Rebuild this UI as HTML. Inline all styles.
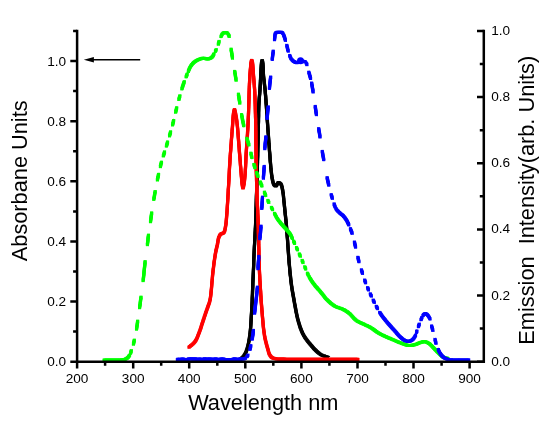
<!DOCTYPE html>
<html><head><meta charset="utf-8"><title>Spectra</title>
<style>html,body{margin:0;padding:0;background:#fff}svg{display:block}</style>
</head><body>
<svg width="550" height="424" viewBox="0 0 550 424">
<rect width="550" height="424" fill="#fff"/>
<defs><path id="c1" d="M236.0 360.0L236.2 360.0L236.4 360.0L236.6 360.0L236.8 360.0L237.0 360.0L237.1 360.0L237.3 360.0L237.5 360.0L237.7 360.0L237.9 360.0L238.1 360.0L238.3 359.9L238.5 359.9L238.6 359.9L238.8 359.8L239.0 359.8L239.2 359.7L239.3 359.7L239.5 359.6L239.7 359.6L239.8 359.5L240.0 359.4L240.1 359.3L240.3 359.3L240.4 359.2L240.6 359.1L240.7 359.0L240.9 358.9L241.0 358.8L241.2 358.6L241.3 358.5L241.5 358.4L241.7 358.2L241.9 358.0L242.1 357.8L242.3 357.6L242.5 357.4L242.7 357.2L243.0 356.9L243.2 356.7L243.4 356.4L243.6 356.2L243.8 355.9L244.0 355.6L244.2 355.4L244.3 355.1L244.5 354.8L244.7 354.5L244.9 354.2L245.1 353.8L245.3 353.5L245.5 353.1L245.6 352.8L245.8 352.4L246.0 352.0L246.1 351.6L246.3 351.2L246.4 350.8L246.6 350.4L246.7 350.0L246.9 349.6L247.0 349.1L247.2 348.7L247.3 348.2L247.5 347.5L247.7 346.9L247.9 346.2L248.0 345.5L248.2 344.7L248.4 344.0L248.5 343.2L248.7 342.4L248.8 341.6L249.0 340.8L249.1 340.0L249.3 339.1L249.4 338.2L249.5 337.3L249.7 336.4L249.8 335.5L250.0 334.2L250.1 332.8L250.3 331.3L250.4 329.8L250.6 328.3L250.7 326.7L250.8 325.1L250.9 323.4L251.0 321.8L251.1 320.1L251.2 318.4L251.3 316.7L251.4 315.0L251.5 313.3L251.6 311.7L251.7 310.0L251.8 308.2L251.9 306.4L252.0 304.6L252.1 302.7L252.2 300.9L252.2 299.0L252.3 297.2L252.4 295.3L252.5 293.4L252.5 291.5L252.6 289.6L252.7 287.7L252.8 285.8L252.8 283.9L252.9 281.9L253.0 280.0L253.1 277.9L253.2 275.7L253.3 273.5L253.4 271.2L253.5 269.0L253.6 266.7L253.7 264.4L253.7 262.1L253.8 259.8L253.9 257.6L254.0 255.4L254.1 253.2L254.2 251.1L254.3 249.0L254.4 246.9L254.5 245.0L254.6 243.5L254.6 242.1L254.7 240.8L254.8 239.5L254.9 238.2L254.9 236.9L255.0 235.6L255.1 234.4L255.1 233.1L255.2 231.9L255.3 230.6L255.3 229.4L255.4 228.1L255.5 226.8L255.5 225.4L255.6 224.0L255.7 222.3L255.7 220.6L255.8 218.8L255.9 217.0L255.9 215.1L256.0 213.3L256.0 211.4L256.1 209.5L256.1 207.6L256.2 205.7L256.2 203.9L256.3 202.0L256.3 200.2L256.4 198.4L256.4 196.7L256.5 195.0L256.5 193.6L256.6 192.2L256.6 190.9L256.7 189.5L256.7 188.2L256.8 186.9L256.8 185.7L256.9 184.4L256.9 183.1L256.9 181.8L257.0 180.6L257.0 179.3L257.1 178.0L257.1 176.7L257.2 175.3L257.2 174.0L257.2 172.5L257.3 171.1L257.3 169.6L257.4 168.1L257.4 166.6L257.4 165.1L257.5 163.6L257.5 162.1L257.5 160.6L257.6 159.1L257.6 157.6L257.7 156.1L257.7 154.6L257.7 153.0L257.8 151.5L257.8 150.0L257.8 148.4L257.9 146.9L257.9 145.3L258.0 143.7L258.0 142.2L258.0 140.6L258.1 139.0L258.1 137.4L258.1 135.8L258.2 134.2L258.2 132.7L258.3 131.1L258.3 129.6L258.3 128.0L258.4 126.5L258.4 125.0L258.4 123.6L258.5 122.3L258.5 120.9L258.5 119.6L258.5 118.2L258.6 116.9L258.6 115.5L258.6 114.2L258.6 112.9L258.6 111.6L258.7 110.3L258.7 109.0L258.7 107.7L258.8 106.5L258.8 105.2L258.9 104.0L259.0 102.9L259.0 101.9L259.1 100.8L259.2 99.8L259.2 98.8L259.3 97.8L259.4 96.7L259.5 95.7L259.6 94.7L259.7 93.8L259.7 92.8L259.8 91.8L259.9 90.8L260.0 89.9L260.0 88.9L260.1 88.0L260.1 87.2L260.2 86.3L260.2 85.5L260.3 84.7L260.3 83.9L260.4 83.1L260.4 82.3L260.4 81.5L260.5 80.7L260.5 79.9L260.5 79.2L260.6 78.4L260.6 77.7L260.6 76.9L260.7 76.2L260.7 75.5L260.7 74.9L260.8 74.3L260.8 73.8L260.8 73.2L260.9 72.6L260.9 72.1L260.9 71.5L260.9 71.0L261.0 70.5L261.0 69.9L261.0 69.4L261.1 68.9L261.1 68.4L261.1 67.9L261.2 67.5L261.2 67.0L261.2 66.7L261.2 66.3L261.3 66.0L261.3 65.7L261.3 65.4L261.3 65.0L261.3 64.7L261.4 64.4L261.4 64.1L261.4 63.8L261.4 63.6L261.5 63.3L261.5 63.0L261.5 62.8L261.6 62.5L261.6 62.3L261.6 62.2L261.7 62.0L261.7 61.9L261.7 61.7L261.8 61.5L261.8 61.4L261.8 61.3L261.9 61.1L261.9 61.0L261.9 60.9L262.0 60.8L262.0 60.7L262.0 60.6L262.1 60.5L262.1 60.5L262.1 60.5L262.2 60.5L262.2 60.5L262.3 60.6L262.3 60.7L262.3 60.8L262.4 60.9L262.4 61.0L262.4 61.1L262.5 61.3L262.5 61.4L262.5 61.5L262.6 61.7L262.6 61.9L262.6 62.0L262.7 62.2L262.7 62.3L262.7 62.5L262.8 62.8L262.8 63.0L262.8 63.3L262.9 63.6L262.9 63.8L262.9 64.1L262.9 64.4L263.0 64.7L263.0 65.0L263.0 65.4L263.0 65.7L263.0 66.0L263.1 66.3L263.1 66.7L263.1 67.0L263.1 67.5L263.2 67.9L263.2 68.4L263.2 68.9L263.2 69.4L263.2 69.9L263.2 70.5L263.3 71.0L263.3 71.5L263.3 72.1L263.3 72.6L263.4 73.2L263.4 73.8L263.4 74.3L263.5 74.9L263.5 75.5L263.6 76.2L263.6 76.9L263.7 77.7L263.8 78.4L263.9 79.2L264.0 79.9L264.1 80.7L264.2 81.5L264.2 82.3L264.3 83.1L264.4 83.9L264.5 84.7L264.6 85.5L264.7 86.3L264.8 87.2L264.9 88.0L265.0 88.9L265.1 89.9L265.2 90.9L265.2 91.8L265.3 92.8L265.4 93.8L265.5 94.8L265.6 95.8L265.7 96.8L265.7 97.8L265.8 98.8L265.9 99.9L266.0 100.9L266.0 101.9L266.1 103.0L266.2 104.0L266.3 105.1L266.4 106.3L266.4 107.4L266.5 108.6L266.6 109.7L266.7 110.9L266.8 112.1L266.8 113.2L266.9 114.4L267.0 115.6L267.1 116.8L267.2 118.0L267.2 119.3L267.3 120.5L267.4 121.7L267.5 123.0L267.6 124.5L267.7 126.0L267.8 127.5L267.9 129.0L268.0 130.6L268.1 132.2L268.3 133.8L268.4 135.4L268.5 137.0L268.6 138.6L268.7 140.2L268.8 141.7L268.9 143.3L269.1 144.9L269.2 146.5L269.3 148.0L269.4 149.5L269.5 151.0L269.6 152.5L269.8 154.1L269.9 155.6L270.0 157.2L270.1 158.7L270.2 160.2L270.3 161.7L270.5 163.2L270.6 164.6L270.7 166.0L270.8 167.4L271.0 168.6L271.1 169.9L271.2 171.0L271.3 171.7L271.4 172.3L271.4 173.0L271.5 173.6L271.6 174.2L271.6 174.8L271.7 175.4L271.8 175.9L271.9 176.5L271.9 177.0L272.0 177.5L272.1 178.0L272.2 178.5L272.3 179.0L272.4 179.5L272.5 180.0L272.6 180.4L272.7 180.7L272.8 181.1L272.8 181.5L272.9 181.8L273.0 182.2L273.1 182.5L273.2 182.9L273.3 183.2L273.4 183.5L273.5 183.8L273.7 184.1L273.8 184.4L273.9 184.6L274.1 184.8L274.2 185.0L274.3 185.1L274.4 185.2L274.5 185.3L274.6 185.4L274.7 185.5L274.8 185.6L275.0 185.7L275.1 185.7L275.2 185.8L275.3 185.8L275.4 185.9L275.5 185.9L275.7 185.9L275.8 185.9L275.9 185.9L276.0 185.9L276.1 185.8L276.3 185.7L276.4 185.5L276.6 185.3L276.7 185.1L276.8 184.9L277.0 184.6L277.1 184.3L277.3 184.0L277.4 183.8L277.5 183.5L277.7 183.3L277.8 183.1L278.0 182.9L278.1 182.8L278.3 182.7L278.4 182.7L278.6 182.7L278.8 182.7L278.9 182.7L279.1 182.8L279.2 182.8L279.4 182.9L279.6 183.0L279.7 183.1L279.9 183.2L280.1 183.3L280.2 183.4L280.4 183.6L280.5 183.7L280.7 183.9L280.8 184.0L281.0 184.2L281.2 184.5L281.3 184.8L281.5 185.2L281.6 185.5L281.7 185.9L281.8 186.3L281.9 186.7L282.1 187.2L282.1 187.6L282.2 188.1L282.3 188.5L282.4 189.0L282.5 189.5L282.6 189.9L282.7 190.4L282.8 191.0L282.9 191.7L283.0 192.3L283.1 193.0L283.2 193.7L283.3 194.4L283.4 195.1L283.4 195.8L283.5 196.6L283.6 197.3L283.6 198.1L283.7 198.8L283.8 199.6L283.8 200.3L283.9 201.1L284.0 201.8L284.1 202.6L284.2 203.4L284.3 204.2L284.3 205.0L284.4 205.8L284.5 206.6L284.6 207.4L284.7 208.2L284.7 209.0L284.8 209.8L284.9 210.6L285.0 211.4L285.1 212.2L285.1 213.0L285.2 213.8L285.3 214.5L285.4 215.1L285.4 215.7L285.5 216.3L285.6 216.9L285.6 217.4L285.7 218.0L285.7 218.5L285.8 219.1L285.9 219.6L285.9 220.2L286.0 220.8L286.0 221.4L286.1 222.0L286.2 222.6L286.2 223.3L286.3 224.0L286.4 225.2L286.5 226.4L286.6 227.7L286.7 229.1L286.8 230.5L286.9 231.9L287.0 233.4L287.1 234.9L287.2 236.4L287.4 238.0L287.5 239.5L287.6 241.1L287.7 242.6L287.8 244.1L287.9 245.6L288.0 247.0L288.1 248.4L288.2 249.8L288.3 251.2L288.4 252.6L288.5 254.0L288.6 255.4L288.7 256.8L288.8 258.2L288.9 259.6L289.0 261.0L289.1 262.4L289.2 263.7L289.4 265.1L289.5 266.4L289.6 267.7L289.7 269.0L289.8 270.1L289.9 271.2L290.0 272.3L290.1 273.4L290.2 274.5L290.4 275.6L290.5 276.7L290.6 277.7L290.7 278.8L290.8 279.8L290.9 280.9L291.1 281.9L291.2 283.0L291.3 284.0L291.5 285.0L291.6 286.0L291.7 286.9L291.9 287.8L292.0 288.7L292.1 289.5L292.3 290.4L292.4 291.2L292.6 292.1L292.7 292.9L292.9 293.8L293.0 294.6L293.2 295.5L293.3 296.4L293.5 297.2L293.7 298.1L293.8 299.1L294.0 300.0L294.2 301.2L294.4 302.4L294.6 303.6L294.9 304.8L295.1 306.1L295.3 307.4L295.6 308.7L295.8 310.0L296.0 311.3L296.3 312.6L296.6 313.9L296.8 315.2L297.1 316.4L297.4 317.7L297.7 318.9L298.0 320.0L298.3 321.0L298.5 321.9L298.8 322.8L299.1 323.8L299.4 324.7L299.6 325.6L299.9 326.5L300.2 327.4L300.5 328.2L300.9 329.1L301.2 329.9L301.5 330.8L301.9 331.6L302.2 332.4L302.6 333.2L303.0 334.0L303.4 334.7L303.7 335.4L304.1 336.0L304.5 336.7L304.9 337.3L305.4 338.0L305.8 338.6L306.2 339.2L306.7 339.8L307.1 340.4L307.6 341.0L308.0 341.6L308.5 342.2L309.0 342.8L309.5 343.4L310.0 344.0L310.6 344.7L311.1 345.3L311.7 346.0L312.3 346.7L312.9 347.4L313.5 348.1L314.1 348.8L314.8 349.4L315.4 350.1L316.1 350.7L316.7 351.3L317.4 351.9L318.0 352.5L318.7 353.0L319.3 353.5L320.0 354.0L320.5 354.3L321.1 354.7L321.6 355.0L322.2 355.2L322.8 355.5L323.3 355.7L323.9 355.9L324.5 356.1L325.0 356.3L325.6 356.5L326.2 356.7L326.7 356.9L327.3 357.1L327.9 357.3L328.4 357.5L329.0 357.7"/>
<path id="c2" d="M189.0 347.2L189.4 346.8L189.8 346.5L190.2 346.2L190.6 345.8L191.0 345.5L191.4 345.2L191.8 344.9L192.2 344.5L192.6 344.2L193.0 343.8L193.4 343.5L193.7 343.1L194.1 342.7L194.4 342.3L194.8 341.9L195.1 341.5L195.4 341.0L195.8 340.5L196.1 339.9L196.4 339.4L196.7 338.8L196.9 338.2L197.2 337.6L197.5 337.0L197.7 336.3L198.0 335.7L198.2 335.1L198.4 334.4L198.7 333.8L198.9 333.2L199.2 332.5L199.4 331.9L199.6 331.3L199.9 330.6L200.1 330.0L200.3 329.3L200.6 328.7L200.8 328.0L201.0 327.4L201.2 326.7L201.4 326.0L201.6 325.4L201.8 324.7L202.0 324.0L202.3 323.4L202.5 322.7L202.7 322.1L202.9 321.4L203.1 320.7L203.3 320.1L203.6 319.4L203.8 318.8L204.0 318.1L204.2 317.5L204.4 316.8L204.6 316.1L204.9 315.5L205.1 314.8L205.3 314.2L205.5 313.5L205.7 312.9L206.0 312.2L206.2 311.6L206.4 310.9L206.6 310.2L206.9 309.6L207.1 309.0L207.3 308.3L207.6 307.7L207.8 307.0L208.0 306.4L208.3 305.7L208.5 305.1L208.7 304.4L209.0 303.8L209.2 303.1L209.4 302.5L209.6 301.8L209.7 301.2L209.9 300.5L210.0 299.9L210.2 299.2L210.3 298.5L210.4 297.9L210.5 297.2L210.6 296.6L210.7 295.9L210.8 295.2L210.8 294.6L210.9 293.9L211.0 293.2L211.0 292.6L211.1 291.9L211.2 291.3L211.2 290.6L211.3 290.0L211.4 289.4L211.4 288.8L211.5 288.3L211.5 287.7L211.6 287.1L211.6 286.6L211.7 286.0L211.7 285.5L211.7 284.9L211.8 284.3L211.8 283.8L211.9 283.2L211.9 282.6L212.0 282.0L212.0 281.3L212.1 280.7L212.2 279.8L212.3 279.0L212.4 278.1L212.4 277.1L212.5 276.2L212.6 275.2L212.7 274.2L212.8 273.2L212.9 272.3L213.0 271.3L213.1 270.3L213.3 269.3L213.4 268.3L213.5 267.4L213.6 266.4L213.7 265.5L213.8 264.7L213.9 263.8L214.0 263.0L214.1 262.2L214.2 261.3L214.4 260.5L214.5 259.7L214.6 258.9L214.7 258.1L214.8 257.3L215.0 256.5L215.1 255.7L215.2 254.9L215.3 254.2L215.5 253.4L215.6 252.7L215.7 252.1L215.8 251.5L215.9 250.9L216.1 250.4L216.2 249.8L216.3 249.2L216.4 248.7L216.6 248.2L216.7 247.6L216.8 247.1L216.9 246.6L217.1 246.0L217.2 245.5L217.3 245.0L217.4 244.5L217.5 244.0L217.6 243.6L217.7 243.2L217.7 242.7L217.8 242.3L217.9 241.9L217.9 241.5L218.0 241.1L218.0 240.7L218.1 240.3L218.2 239.9L218.2 239.5L218.3 239.1L218.4 238.7L218.5 238.4L218.6 238.0L218.7 237.7L218.8 237.4L218.9 237.2L219.0 237.0L219.1 236.7L219.2 236.5L219.3 236.3L219.4 236.0L219.5 235.8L219.6 235.6L219.7 235.4L219.9 235.2L220.0 235.0L220.1 234.8L220.3 234.6L220.4 234.5L220.6 234.3L220.8 234.2L220.9 234.0L221.1 233.9L221.3 233.8L221.6 233.7L221.8 233.7L222.0 233.6L222.2 233.5L222.4 233.4L222.7 233.3L222.9 233.3L223.1 233.2L223.3 233.0L223.5 232.9L223.6 232.8L223.8 232.6L224.0 232.4L224.1 232.1L224.3 231.8L224.4 231.5L224.6 231.2L224.7 230.8L224.8 230.5L224.9 230.1L224.9 229.8L225.0 229.4L225.1 229.0L225.2 228.6L225.3 228.2L225.3 227.7L225.4 227.3L225.5 226.9L225.6 226.3L225.7 225.7L225.8 225.0L225.9 224.4L226.0 223.7L226.1 223.0L226.1 222.2L226.2 221.5L226.3 220.8L226.3 220.0L226.4 219.2L226.5 218.5L226.5 217.7L226.6 217.0L226.6 216.2L226.7 215.5L226.8 214.7L226.8 213.9L226.9 213.1L227.0 212.4L227.0 211.6L227.1 210.8L227.1 210.0L227.2 209.1L227.2 208.3L227.3 207.5L227.3 206.7L227.4 205.9L227.4 205.1L227.5 204.3L227.5 203.5L227.6 202.7L227.6 201.9L227.7 201.1L227.7 200.4L227.8 199.6L227.8 198.9L227.9 198.2L227.9 197.4L227.9 196.7L228.0 195.9L228.0 195.2L228.1 194.4L228.1 193.6L228.2 192.7L228.2 191.8L228.2 190.9L228.3 190.0L228.4 188.5L228.5 186.9L228.6 185.2L228.7 183.4L228.8 181.6L228.9 179.8L229.0 177.9L229.1 175.9L229.2 173.9L229.3 171.9L229.4 169.9L229.5 167.9L229.6 165.9L229.8 163.9L229.9 161.9L230.0 160.0L230.1 157.9L230.3 155.7L230.4 153.5L230.6 151.3L230.8 149.0L230.9 146.7L231.1 144.4L231.3 142.1L231.4 139.9L231.6 137.7L231.8 135.5L231.9 133.4L232.1 131.4L232.2 129.5L232.4 127.7L232.5 126.0L232.6 125.0L232.6 124.0L232.7 123.1L232.8 122.1L232.8 121.2L232.9 120.3L233.0 119.4L233.0 118.6L233.1 117.8L233.1 117.0L233.2 116.2L233.3 115.5L233.3 114.8L233.4 114.2L233.5 113.6L233.6 113.0L233.7 112.7L233.7 112.4L233.8 112.1L233.8 111.8L233.9 111.5L233.9 111.2L234.0 110.9L234.0 110.7L234.1 110.4L234.2 110.2L234.2 110.0L234.3 109.8L234.3 109.7L234.4 109.6L234.4 109.5L234.5 109.5L234.6 109.5L234.6 109.6L234.7 109.7L234.7 109.8L234.8 110.0L234.8 110.2L234.9 110.5L234.9 110.7L235.0 111.0L235.1 111.3L235.1 111.6L235.2 111.9L235.2 112.2L235.3 112.4L235.3 112.7L235.4 113.0L235.5 113.4L235.6 113.8L235.7 114.2L235.8 114.7L235.8 115.1L235.9 115.6L236.0 116.1L236.1 116.6L236.2 117.1L236.3 117.6L236.4 118.1L236.5 118.7L236.6 119.2L236.6 119.8L236.7 120.4L236.8 121.0L236.9 122.0L237.0 122.9L237.1 124.0L237.3 125.0L237.4 126.2L237.5 127.3L237.6 128.5L237.7 129.6L237.8 130.9L237.9 132.1L238.0 133.4L238.1 134.7L238.2 136.0L238.3 137.3L238.4 138.6L238.5 140.0L238.7 141.9L238.8 143.9L239.0 146.0L239.2 148.3L239.3 150.5L239.5 152.9L239.7 155.2L239.9 157.6L240.1 159.9L240.3 162.2L240.4 164.5L240.6 166.6L240.8 168.7L240.9 170.6L241.1 172.4L241.2 174.0L241.3 174.8L241.3 175.7L241.4 176.4L241.5 177.2L241.5 178.0L241.6 178.7L241.6 179.4L241.7 180.0L241.7 180.7L241.8 181.3L241.9 181.9L241.9 182.5L242.0 183.1L242.1 183.6L242.1 184.1L242.2 184.6L242.2 184.9L242.3 185.2L242.3 185.5L242.4 185.7L242.4 186.0L242.5 186.3L242.5 186.6L242.6 186.8L242.6 187.1L242.7 187.3L242.7 187.5L242.8 187.7L242.8 187.8L242.9 187.9L242.9 188.0L243.0 188.0L243.1 188.0L243.1 187.9L243.2 187.8L243.2 187.7L243.3 187.5L243.3 187.3L243.4 187.1L243.5 186.8L243.5 186.6L243.6 186.3L243.6 186.0L243.7 185.7L243.7 185.5L243.8 185.2L243.8 184.9L243.9 184.6L244.0 184.1L244.1 183.6L244.2 183.0L244.2 182.5L244.3 181.8L244.4 181.2L244.5 180.6L244.6 179.9L244.6 179.2L244.7 178.5L244.8 177.8L244.8 177.0L244.9 176.3L245.0 175.5L245.0 174.8L245.1 174.0L245.2 172.9L245.3 171.7L245.3 170.4L245.4 169.1L245.5 167.8L245.6 166.4L245.6 165.0L245.7 163.6L245.8 162.2L245.8 160.8L245.9 159.4L245.9 158.1L246.0 156.7L246.1 155.4L246.1 154.2L246.2 153.0L246.3 152.1L246.3 151.2L246.4 150.4L246.4 149.6L246.5 148.8L246.5 148.0L246.6 147.2L246.6 146.5L246.7 145.7L246.8 144.9L246.8 144.1L246.9 143.4L246.9 142.5L247.0 141.7L247.0 140.9L247.1 140.0L247.2 138.9L247.2 137.8L247.3 136.6L247.4 135.5L247.5 134.3L247.5 133.1L247.6 131.9L247.7 130.7L247.8 129.4L247.8 128.2L247.9 127.0L248.0 125.8L248.0 124.5L248.1 123.3L248.1 122.2L248.2 121.0L248.2 119.9L248.3 118.8L248.3 117.7L248.4 116.7L248.4 115.6L248.5 114.5L248.5 113.5L248.5 112.4L248.6 111.4L248.6 110.3L248.6 109.2L248.7 108.2L248.7 107.1L248.7 106.1L248.8 105.0L248.8 104.0L248.8 103.0L248.9 102.0L248.9 100.9L248.9 99.9L249.0 98.9L249.0 97.9L249.0 96.9L249.0 95.8L249.1 94.8L249.1 93.8L249.1 92.8L249.2 91.8L249.2 90.9L249.2 89.9L249.3 88.9L249.3 88.0L249.3 87.2L249.4 86.3L249.4 85.5L249.4 84.7L249.5 83.9L249.5 83.1L249.5 82.3L249.6 81.5L249.6 80.7L249.6 79.9L249.7 79.2L249.7 78.4L249.8 77.7L249.8 76.9L249.9 76.2L249.9 75.5L249.9 74.9L250.0 74.3L250.0 73.8L250.1 73.2L250.1 72.6L250.2 72.1L250.2 71.5L250.2 71.0L250.3 70.5L250.3 69.9L250.4 69.4L250.4 68.9L250.5 68.4L250.5 67.9L250.6 67.5L250.6 67.0L250.6 66.7L250.7 66.3L250.7 66.0L250.7 65.6L250.7 65.3L250.8 65.0L250.8 64.7L250.8 64.4L250.8 64.1L250.9 63.8L250.9 63.5L250.9 63.2L251.0 62.9L251.0 62.7L251.1 62.4L251.1 62.2L251.1 62.1L251.2 61.9L251.2 61.8L251.2 61.6L251.3 61.4L251.3 61.3L251.4 61.2L251.4 61.0L251.5 60.9L251.5 60.8L251.5 60.7L251.6 60.6L251.6 60.5L251.7 60.4L251.7 60.4L251.8 60.4L251.8 60.4L251.8 60.4L251.9 60.5L251.9 60.6L252.0 60.7L252.0 60.8L252.0 60.9L252.1 61.0L252.1 61.2L252.2 61.3L252.2 61.4L252.3 61.6L252.3 61.8L252.3 61.9L252.4 62.1L252.4 62.2L252.4 62.4L252.5 62.7L252.5 62.9L252.6 63.2L252.6 63.5L252.6 63.8L252.7 64.1L252.7 64.4L252.7 64.7L252.7 65.0L252.8 65.3L252.8 65.6L252.8 66.0L252.8 66.3L252.9 66.7L252.9 67.0L252.9 67.5L253.0 67.9L253.0 68.4L253.1 68.9L253.1 69.4L253.1 69.9L253.2 70.5L253.2 71.0L253.2 71.5L253.3 72.1L253.3 72.6L253.3 73.2L253.4 73.8L253.4 74.3L253.5 74.9L253.5 75.5L253.6 76.2L253.6 76.9L253.7 77.7L253.7 78.4L253.8 79.2L253.9 79.9L253.9 80.7L254.0 81.5L254.1 82.3L254.1 83.1L254.2 83.9L254.3 84.7L254.3 85.5L254.4 86.3L254.4 87.2L254.5 88.0L254.6 88.9L254.6 89.9L254.7 90.9L254.7 91.8L254.8 92.8L254.8 93.8L254.9 94.8L254.9 95.8L254.9 96.9L255.0 97.9L255.0 98.9L255.1 99.9L255.1 100.9L255.1 102.0L255.2 103.0L255.2 104.0L255.2 105.0L255.3 106.0L255.3 107.0L255.3 108.0L255.3 109.0L255.4 110.0L255.4 110.9L255.4 111.9L255.4 112.9L255.5 114.0L255.5 115.0L255.5 116.1L255.5 117.3L255.6 118.5L255.6 119.7L255.6 121.0L255.6 123.4L255.7 126.0L255.7 128.9L255.8 131.9L255.8 135.0L255.8 138.2L255.9 141.6L255.9 144.9L256.0 148.3L256.0 151.7L256.1 155.0L256.1 158.3L256.1 161.5L256.2 164.5L256.2 167.3L256.3 170.0L256.3 171.8L256.4 173.5L256.4 175.2L256.5 176.8L256.5 178.4L256.5 179.9L256.6 181.4L256.6 182.9L256.7 184.4L256.7 185.9L256.7 187.3L256.8 188.8L256.8 190.3L256.9 191.8L256.9 193.4L257.0 195.0L257.1 196.7L257.1 198.5L257.2 200.2L257.3 201.9L257.3 203.7L257.4 205.4L257.5 207.2L257.6 208.9L257.7 210.7L257.7 212.5L257.8 214.4L257.9 216.2L258.0 218.1L258.1 220.0L258.1 222.0L258.2 224.0L258.3 226.6L258.4 229.4L258.4 232.2L258.5 235.2L258.6 238.2L258.7 241.3L258.7 244.4L258.8 247.5L258.9 250.6L258.9 253.7L259.0 256.7L259.1 259.6L259.1 262.4L259.2 265.1L259.3 267.6L259.4 270.0L259.5 271.5L259.5 272.9L259.6 274.3L259.7 275.6L259.7 276.9L259.8 278.1L259.8 279.3L259.9 280.5L260.0 281.7L260.1 282.9L260.1 284.0L260.2 285.2L260.3 286.4L260.3 287.6L260.4 288.8L260.5 290.0L260.6 291.2L260.7 292.5L260.7 293.7L260.8 294.9L260.9 296.2L261.0 297.4L261.0 298.6L261.1 299.9L261.2 301.1L261.3 302.3L261.4 303.6L261.5 304.8L261.6 306.1L261.7 307.4L261.8 308.7L261.9 310.0L262.0 311.5L262.2 313.1L262.3 314.7L262.4 316.4L262.6 318.0L262.7 319.7L262.9 321.4L263.0 323.1L263.2 324.8L263.3 326.5L263.5 328.1L263.7 329.7L263.9 331.2L264.1 332.7L264.3 334.1L264.5 335.5L264.7 336.4L264.8 337.3L265.0 338.2L265.2 339.1L265.4 340.0L265.6 340.8L265.8 341.6L266.0 342.4L266.2 343.2L266.4 344.0L266.6 344.7L266.8 345.4L267.0 346.2L267.2 346.9L267.4 347.5L267.6 348.2L267.7 348.7L267.8 349.1L267.9 349.6L268.1 350.0L268.2 350.4L268.3 350.8L268.4 351.3L268.5 351.7L268.6 352.1L268.7 352.4L268.8 352.8L268.9 353.2L269.1 353.5L269.2 353.9L269.3 354.2L269.5 354.5L269.6 354.7L269.8 355.0L269.9 355.2L270.0 355.4L270.2 355.6L270.3 355.8L270.5 356.0L270.6 356.2L270.8 356.4L270.9 356.6L271.1 356.7L271.3 356.9L271.4 357.1L271.6 357.2L271.8 357.4L272.0 357.5L272.2 357.6L272.4 357.8L272.6 357.9L272.8 358.0L273.1 358.1L273.3 358.2L273.5 358.2L273.7 358.3L274.0 358.4L274.2 358.4L274.5 358.5L274.8 358.6L275.1 358.6L275.4 358.7L275.7 358.7L276.0 358.8L276.6 358.9L277.3 359.0L277.9 359.0L278.6 359.1L279.4 359.1L280.2 359.2L281.0 359.2L281.8 359.2L282.7 359.2L283.6 359.2L284.6 359.2L285.6 359.3L286.6 359.3L287.7 359.3L288.8 359.3L290.0 359.3L292.8 359.3L296.1 359.4L299.6 359.4L303.4 359.4L307.5 359.4L311.8 359.4L316.2 359.4L320.8 359.4L325.5 359.4L330.3 359.4L335.0 359.4L339.8 359.3L344.5 359.3L349.2 359.3L353.7 359.3L358.0 359.3"/>
<path id="c3" d="M104.0 360.2L104.7 360.2L105.4 360.2L106.1 360.2L106.8 360.2L107.5 360.2L108.3 360.2L109.0 360.2L109.7 360.2L110.4 360.2L111.1 360.2L111.8 360.2L112.5 360.2L113.1 360.2L113.8 360.2L114.4 360.2L115.0 360.2L115.4 360.2L115.8 360.2L116.3 360.2L116.7 360.2L117.1 360.2L117.4 360.2L117.8 360.2L118.2 360.2L118.6 360.1L118.9 360.1L119.3 360.1L119.6 360.1L120.0 360.1L120.3 360.1L120.7 360.0L121.0 360.0L121.3 360.0L121.5 359.9L121.8 359.9L122.1 359.9L122.3 359.9L122.6 359.8L122.9 359.8L123.1 359.8L123.4 359.7L123.6 359.7L123.8 359.6L124.1 359.6L124.3 359.5L124.5 359.5L124.8 359.4L125.0 359.3L125.2 359.2L125.4 359.1L125.6 359.0L125.8 358.9L126.0 358.8L126.2 358.7L126.4 358.6L126.6 358.5L126.8 358.4L127.0 358.2L127.2 358.1L127.3 358.0L127.5 357.8L127.7 357.7L127.8 357.6L128.0 357.4L128.2 357.2L128.3 357.1L128.4 356.9L128.6 356.7L128.7 356.6L128.8 356.4L129.0 356.2L129.1 356.0L129.2 355.8L129.3 355.6L129.4 355.4L129.6 355.2L129.6 355.2 M130.5 353.2L130.6 353.0L130.7 352.7L130.8 352.3L130.9 352.0L131.0 351.7L131.1 351.4L131.2 351.1L131.3 350.7L131.3 350.7 M133.4 344.1L133.5 343.9L133.6 343.5L133.7 343.1L133.7 342.8L133.8 342.4L133.9 342.0L134.0 341.6L134.1 341.2L134.2 340.8L134.3 340.4L134.3 340.0 M136.5 329.2L136.6 328.6L136.7 327.9L136.8 327.3L136.9 326.6L137.0 325.9L137.1 325.2L137.2 324.6L137.3 323.9L137.4 323.2L137.5 322.5L137.6 321.8L137.7 321.2L137.7 321.1 M139.6 307.7L139.6 307.4L139.7 306.6L139.8 305.8L140.0 305.0L140.1 304.2L140.2 303.3L140.3 302.5L140.4 301.7L140.5 300.8L140.6 300.0L140.7 299.2L140.9 298.3L141.0 297.5L141.0 297.1 M143.1 280.6L143.3 279.4L143.4 278.1L143.6 276.7L143.7 275.4L143.9 274.0L144.0 272.5L144.1 271.1L144.3 269.7L144.4 268.3L144.6 266.9L144.7 265.5L144.9 264.1L145.0 262.8L145.1 261.6 M147.4 244.6L147.4 244.3L147.5 243.6L147.6 242.8L147.7 242.0L147.8 241.3L147.9 240.5L148.0 239.7L148.0 239.0L148.1 238.2L148.2 237.5L148.3 236.8L148.4 236.0L148.5 235.3L148.5 235.1 M150.5 221.7L150.5 221.6L150.6 220.9L150.7 220.1L150.8 219.4L150.9 218.7L151.0 218.0L151.1 217.2L151.2 216.5L151.3 215.8L151.4 215.1L151.5 214.4L151.6 213.6L151.7 212.9L151.7 212.8 M153.8 199.4L153.8 199.4L153.9 198.7L154.0 198.0L154.2 197.4L154.3 196.7L154.4 196.0L154.5 195.4L154.6 194.7L154.7 194.1L154.8 193.4L154.9 192.8L155.1 192.1L155.2 191.5 M157.4 180.0L157.4 179.7L157.5 179.2L157.6 178.7L157.7 178.2L157.8 177.7L158.0 177.2L158.1 176.7L158.2 176.2L158.3 175.7L158.4 175.2L158.5 174.6L158.6 174.3 M160.4 166.6L160.4 166.2L160.6 165.5L160.8 164.7L161.0 163.9L161.2 163.1L161.4 162.4L161.5 162.2 M163.3 155.9L163.4 155.7L163.6 155.1L163.8 154.5L164.0 153.8L164.2 153.2L164.4 152.6L164.6 152.0L164.6 151.9 M166.4 146.0L166.5 145.8L166.7 145.1L166.9 144.5L167.1 143.9L167.3 143.3L167.4 142.7L167.6 142.0 M169.5 135.8L169.5 135.7L169.7 135.1L169.9 134.5L170.1 133.8L170.3 133.2L170.4 132.6L170.6 131.9L170.6 131.9 M172.5 124.9L172.7 124.3L172.9 123.6L173.1 122.8L173.3 122.1L173.4 121.4L173.6 120.7L173.7 120.5 M175.6 112.2L175.7 111.9L175.9 111.0L176.1 110.2L176.3 109.5L176.5 108.7L176.6 107.9L176.7 107.8 M178.9 99.5L178.9 99.5L179.0 99.0L179.1 98.5L179.3 98.0L179.4 97.5L179.5 97.0L179.7 96.6L179.8 96.1L179.9 95.8 M181.9 88.9L182.0 88.4L182.2 87.8L182.4 87.1L182.7 86.4L182.9 85.7L183.1 85.0L183.3 84.4L183.6 83.7L183.8 83.0L184.0 82.4L184.3 81.7L184.3 81.7 M186.1 76.8L186.2 76.6L186.4 76.1L186.6 75.6L186.8 75.2L186.9 74.7L187.1 74.3L187.2 74.1 M188.3 71.4L188.4 71.2L188.5 70.8L188.7 70.4L188.8 70.0L189.0 69.6L189.2 69.2L189.3 68.8L189.5 68.4L189.7 68.0L189.9 67.6L190.1 67.2L190.3 66.9L190.5 66.5L190.7 66.2L190.9 65.9L191.1 65.6L191.3 65.3L191.6 65.0L191.8 64.7L192.0 64.4L192.3 64.1L192.5 63.8L192.8 63.6L193.0 63.3L193.3 63.0L193.5 62.8L193.8 62.6L194.0 62.3L194.3 62.1L194.6 61.9L194.8 61.7L195.1 61.5L195.3 61.3L195.6 61.1L195.9 61.0L196.2 60.8L196.4 60.6L196.7 60.5L197.0 60.3L197.3 60.2L197.6 60.0L197.8 59.9L198.1 59.7L198.4 59.6L198.7 59.5L199.0 59.4L199.2 59.3L199.5 59.2L199.8 59.1L200.1 59.0L200.4 58.9L200.6 58.8L200.9 58.7L201.2 58.6L201.5 58.6L201.8 58.5L202.0 58.4L202.3 58.4L202.6 58.4L202.9 58.3L203.2 58.3L203.5 58.3L203.8 58.3L204.1 58.3L204.5 58.4L204.8 58.4L205.1 58.5L205.5 58.6L205.8 58.7L206.1 58.7L206.4 58.8L206.8 58.9L207.1 58.9L207.4 58.9L207.7 58.9L208.0 58.9L208.3 58.9L208.6 58.8L208.8 58.8L209.1 58.7L209.3 58.6L209.6 58.5L209.9 58.4L210.1 58.3L210.3 58.2L210.6 58.1L210.8 58.0L211.1 57.8L211.3 57.7L211.5 57.5L211.7 57.3L211.9 57.2L212.1 57.0L212.3 56.8L212.5 56.6L212.6 56.4L212.8 56.2L212.9 55.9L213.1 55.7L213.2 55.4L213.3 55.2L213.5 54.9L213.6 54.6L213.7 54.4L213.9 54.1L214.0 53.8L214.0 53.8 M215.4 51.3L215.5 51.0L215.7 50.7L215.8 50.4L216.0 50.0L216.2 49.7 M218.3 44.2L218.3 44.1L218.4 43.7L218.6 43.2L218.7 42.8L218.8 42.4L218.9 42.0L219.0 41.6L219.1 41.5 M221.0 36.5L221.0 36.5L221.1 36.3L221.2 36.1L221.3 35.9L221.4 35.7L221.5 35.5L221.6 35.3L221.7 35.1L221.8 34.9L221.9 34.7L222.0 34.5L222.1 34.3L222.2 34.2L222.3 34.0L222.3 34.0 M222.9 33.3L222.9 33.3L223.0 33.2L223.1 33.2L223.1 33.1L223.2 33.1L223.3 33.0L223.4 33.0L223.4 32.9L223.5 32.9L223.6 32.9L223.7 32.8L223.8 32.8L223.9 32.8L224.1 32.7L224.3 32.7L224.5 32.7L224.7 32.6L224.9 32.6L225.1 32.6L225.3 32.6L225.5 32.6L225.7 32.6L225.9 32.6L226.1 32.7L226.3 32.7L226.5 32.7L226.7 32.8L226.8 32.8L226.9 32.8L227.0 32.9L227.1 32.9L227.2 33.0L227.2 33.0L227.3 33.1L227.4 33.1L227.5 33.2L227.5 33.2 M228.2 34.1L228.2 34.2L228.3 34.4L228.5 34.6L228.6 34.8L228.7 35.1L228.8 35.3L228.9 35.6L229.0 35.9L229.1 36.1L229.2 36.4L229.2 36.5 M231.1 49.2L231.1 49.3L231.2 50.0L231.3 50.7L231.4 51.4L231.6 52.2L231.7 52.9L231.8 53.6L231.9 54.4L232.0 55.1L232.2 55.8L232.3 56.5L232.4 57.3L232.5 58.0L232.5 58.1 M234.7 71.3L234.7 71.4L234.8 72.1L234.9 72.8L235.1 73.6L235.2 74.3L235.3 75.0L235.4 75.7L235.5 76.4L235.6 77.2L235.7 77.9L235.8 78.6L236.0 79.3L236.1 80.1L236.1 80.2 M238.4 94.2L238.4 94.3L238.5 95.1L238.7 95.8L238.8 96.5L238.9 97.3L239.0 98.0L239.1 98.7L239.2 99.5L239.3 100.2L239.5 100.9L239.6 101.6L239.7 102.3L239.8 103.0L239.8 103.1 M241.6 114.6L241.6 114.6L241.7 115.2L241.8 115.9L242.0 116.5L242.1 117.2L242.2 117.9L242.3 118.5L242.4 119.2L242.6 119.9L242.7 120.5L242.8 121.2L243.0 121.9L243.1 122.6L243.3 123.3L243.4 124.0L243.6 124.8L243.7 125.6L243.8 125.7 M246.9 138.4L247.0 139.0L247.2 139.5L247.4 140.1L247.5 140.6L247.7 141.1L247.9 141.7L248.1 142.2L248.3 142.7L248.4 143.3L248.6 143.8L248.8 144.4L248.9 144.9 M250.9 153.1L250.9 153.2L251.1 154.0L251.3 154.9L251.4 155.7L251.6 156.5L251.8 157.3L251.9 157.5 M253.9 164.5L254.0 164.7L254.2 165.3L254.4 165.9L254.6 166.5L254.8 167.2L255.0 167.8 M256.6 172.5L256.7 172.8L256.9 173.3L257.1 173.9L257.3 174.4L257.5 174.9L257.7 175.4L257.9 176.0L258.0 176.4 M260.3 182.0L260.4 182.4L260.7 183.0L260.9 183.6L261.2 184.2L261.4 184.8L261.7 185.4L261.9 186.0 M264.4 192.2L264.5 192.7L264.8 193.3L265.0 193.8L265.3 194.4L265.5 195.0L265.7 195.5 M267.9 200.5L268.0 200.7L268.2 201.1L268.4 201.6L268.6 202.0L268.8 202.4L268.8 202.5 M271.4 207.4L271.5 207.7L271.8 208.1L272.0 208.5L272.3 209.0L272.5 209.4L272.6 209.6 M274.7 213.8L274.8 214.0L275.0 214.4L275.2 214.8L275.4 215.2L275.6 215.6L275.8 215.9L275.8 216.0 M274.5 213.4L274.6 213.6L274.8 214.0L275.0 214.4L275.2 214.8L275.4 215.2L275.6 215.6L275.8 215.9L276.0 216.3L276.2 216.7L276.4 217.1L276.6 217.5L276.8 217.8L277.1 218.2L277.3 218.5L277.5 218.9L277.8 219.2L278.0 219.6L278.2 219.9L278.5 220.2L278.7 220.6L279.0 220.9L279.2 221.2L279.5 221.6L279.8 221.9L280.0 222.3L280.3 222.6L280.6 223.0L280.9 223.3L281.2 223.7L281.5 224.1L281.8 224.4L282.2 224.8L282.5 225.2L282.8 225.5L283.1 225.9L283.5 226.3L283.8 226.6L284.1 227.0L284.5 227.3L284.8 227.7L285.1 228.0L285.4 228.4L285.7 228.7L286.0 229.0L286.3 229.4L286.6 229.7L286.9 230.0L287.1 230.3L287.4 230.6L287.7 230.9L288.0 231.3L288.3 231.6L288.6 231.9L288.8 232.2L289.1 232.5L289.3 232.8L289.6 233.2L289.8 233.5L290.0 233.8L290.2 234.1L290.4 234.4L290.5 234.7L290.7 235.0L290.9 235.3L291.0 235.6L291.2 235.9L291.3 236.2L291.5 236.5L291.6 236.8L291.8 237.2L291.9 237.5L292.1 237.8L292.2 238.2L292.4 238.5 M293.6 241.2L293.7 241.3L293.9 241.8L294.2 242.3L294.4 242.9L294.6 243.4L294.6 243.4 M296.5 247.6L296.5 247.6L296.7 248.1L297.0 248.7L297.2 249.2L297.5 249.8L297.5 249.8 M299.3 254.0L299.5 254.3L299.7 254.9L300.0 255.5L300.3 256.2 M302.1 260.4L302.1 260.5L302.5 261.4L302.9 262.3L303.0 262.6 M304.8 266.8L305.1 267.5L305.4 268.3L305.7 269.0L305.7 269.0 M307.4 273.2L307.5 273.4L307.7 273.8L307.9 274.2L308.1 274.7L308.3 275.1L308.5 275.4 M309.0 276.5L309.0 276.5L309.3 277.0L309.5 277.5L309.8 278.0L310.1 278.5L310.4 278.9L310.7 279.4L311.0 279.9L311.3 280.4L311.6 280.9L312.0 281.4L312.3 281.8L312.6 282.3L313.0 282.8L313.3 283.3L313.7 283.7L314.0 284.2L314.4 284.7L314.8 285.2L315.1 285.7L315.5 286.1L315.9 286.6L316.3 287.1L316.8 287.5L317.2 288.0L317.6 288.5L318.0 289.0L318.4 289.4L318.9 289.9L319.3 290.4L319.7 290.8L320.1 291.3L320.5 291.8L320.9 292.3L321.3 292.8L321.7 293.3L322.1 293.7L322.4 294.2L322.8 294.7L323.2 295.2L323.6 295.7L324.0 296.2L324.3 296.7L324.7 297.2L325.1 297.7L325.5 298.1L325.9 298.6L326.4 299.1L326.8 299.5L327.2 299.9L327.7 300.4L328.1 300.8L328.6 301.3L329.1 301.7L329.5 302.1L330.0 302.5L330.5 303.0L331.0 303.4L331.5 303.8L331.9 304.1L332.4 304.5L333.0 304.9L333.5 305.2L334.0 305.6L334.5 305.9L335.0 306.2L335.6 306.5L336.1 306.7L336.7 307.0L337.2 307.2L337.8 307.4L338.4 307.6L339.0 307.8L339.5 308.0L340.1 308.2L340.7 308.4L341.2 308.6L341.8 308.8L342.3 309.0L342.8 309.3L343.3 309.5L343.7 309.7L344.1 309.9L344.5 310.1L344.9 310.3L345.2 310.5L345.6 310.8L345.9 311.0L346.3 311.2L346.6 311.4L347.0 311.6L347.3 311.9L347.7 312.1L348.0 312.4L348.4 312.6L348.7 312.9L349.1 313.2L349.5 313.6L350.0 314.0L350.4 314.4L350.9 314.9L351.3 315.4L351.8 315.9L352.2 316.4L352.7 316.9L353.1 317.4L353.6 317.9L354.0 318.4L354.5 318.8L355.0 319.3L355.4 319.7L355.9 320.1L356.4 320.5L356.8 320.8L357.3 321.1L357.7 321.3L358.1 321.6L358.6 321.8L359.0 322.0L359.5 322.3L360.0 322.5L360.4 322.7L360.9 322.9L361.3 323.1L361.8 323.3L362.2 323.5L362.7 323.7L363.1 323.9L363.6 324.1L364.1 324.3L364.5 324.5L365.0 324.8L365.4 325.0L365.9 325.2L366.3 325.4L366.8 325.6L367.3 325.8L367.7 326.0L368.2 326.3L368.6 326.5L369.1 326.7L369.5 326.9L370.0 327.2L370.5 327.4L370.9 327.7L371.4 328.0L371.8 328.3L372.3 328.6L372.7 328.9L373.2 329.2L373.6 329.6L374.1 329.9L374.6 330.2L375.0 330.6L375.5 330.9L375.9 331.3L376.4 331.6L376.8 331.9L377.3 332.2L377.7 332.5L378.2 332.8L378.6 333.1L379.1 333.3L379.5 333.6L380.0 333.8L380.5 334.1L380.9 334.3L381.4 334.5L381.8 334.8L382.3 335.0L382.7 335.2L383.2 335.4L383.7 335.6L384.1 335.9L384.6 336.1L385.0 336.3L385.5 336.5L385.9 336.7L386.4 336.9L386.8 337.1L387.3 337.3L387.7 337.5L388.2 337.7L388.6 337.9L389.1 338.1L389.5 338.3L389.9 338.4L390.4 338.6L390.8 338.8L391.3 339.0L391.8 339.2L392.2 339.4L392.7 339.6L393.2 339.8L393.8 340.0L394.3 340.3L394.8 340.5L395.4 340.7L395.9 341.0L396.5 341.2L397.0 341.5L397.6 341.7L398.1 341.9L398.7 342.2L399.2 342.4L399.8 342.6L400.3 342.8L400.9 343.0L401.4 343.2L401.9 343.4L402.4 343.6L402.9 343.7L403.3 343.9L403.8 344.1L404.3 344.3L404.8 344.5L405.3 344.6L405.7 344.8L406.2 344.9L406.7 345.1L407.1 345.2L407.6 345.3L408.1 345.4L408.5 345.5L409.0 345.5L409.4 345.5L409.8 345.5L410.2 345.5L410.7 345.5L411.1 345.4L411.5 345.4L411.9 345.3L412.3 345.3L412.7 345.2L413.1 345.1L413.5 345.0L413.9 344.9L414.3 344.8L414.6 344.7L415.0 344.6L415.4 344.5L415.7 344.4L416.1 344.3L416.4 344.2L416.7 344.0L417.1 343.9L417.4 343.8L417.7 343.6L418.0 343.5L418.3 343.3L418.6 343.2L418.9 343.1L419.3 342.9L419.6 342.8L419.9 342.7L420.2 342.6L420.5 342.5L420.8 342.4L421.1 342.3L421.3 342.3L421.6 342.2L421.9 342.1L422.2 342.0L422.4 341.9L422.7 341.9L423.0 341.8L423.3 341.8L423.5 341.7L423.8 341.7L424.1 341.7L424.4 341.7L424.6 341.7L424.9 341.7L425.2 341.7L425.5 341.8L425.8 341.9L426.0 342.0L426.3 342.1L426.6 342.2L426.9 342.3L427.2 342.4L427.5 342.6L427.7 342.7L428.0 342.9L428.3 343.1L428.6 343.2L428.9 343.4L429.1 343.6L429.4 343.8L429.7 344.0L430.1 344.3L430.4 344.6L430.7 344.9L431.0 345.2L431.4 345.5L431.7 345.9L432.0 346.2L432.3 346.5L432.6 346.9L432.9 347.2L433.3 347.6L433.6 347.9L433.9 348.3L434.2 348.6L434.5 348.9L434.8 349.2L435.1 349.5L435.3 349.8L435.6 350.1L435.9 350.3L436.2 350.6L436.4 350.9L436.7 351.2L437.0 351.5L437.3 351.8L437.5 352.1L437.8 352.3L438.1 352.6L438.4 352.9L438.6 353.1L438.9 353.4L439.2 353.6L439.4 353.9L439.7 354.1L439.9 354.4L440.1 354.6L440.4 354.9L440.6 355.1L440.9 355.4L441.1 355.6L441.4 355.8L441.6 356.0L441.9 356.3L442.2 356.5L442.4 356.7L442.7 356.8L443.0 357.0L443.3 357.1L443.6 357.3L443.9 357.4L444.2 357.5L444.5 357.6L444.8 357.7L445.1 357.8L445.4 357.9L445.8 358.0L446.1 358.0L446.4 358.1L446.7 358.2L447.0 358.2L447.4 358.3L447.7 358.4L448.0 358.5"/>
<path id="c4" d="M177.3 359.4L177.4 359.4L177.5 359.4L177.6 359.4L177.7 359.4L177.8 359.4L177.9 359.4L178.0 359.4L178.2 359.4L178.3 359.4L178.4 359.4L178.5 359.3L178.6 359.3L178.7 359.3L178.8 359.3L178.9 359.3L179.0 359.3L179.1 359.4L179.2 359.4L179.3 359.4L179.4 359.4L179.5 359.4L179.6 359.4L179.7 359.4L179.8 359.4L179.9 359.5L180.0 359.5L180.1 359.5L180.2 359.5L180.3 359.5L180.4 359.5L180.5 359.5L180.6 359.5L180.7 359.5L180.8 359.5L180.9 359.4L181.0 359.4L181.1 359.4L181.2 359.4L181.3 359.3L181.4 359.3L181.5 359.3L181.6 359.2L181.7 359.2L181.8 359.2L181.9 359.2L182.0 359.1L182.1 359.1L182.2 359.1L182.3 359.1L182.4 359.1L182.5 359.1L182.6 359.1L182.7 359.1L182.8 359.1L182.9 359.2L183.0 359.2L183.1 359.2L183.2 359.2L183.3 359.2L183.4 359.2L183.5 359.3L183.6 359.3L183.7 359.3L183.8 359.3L183.9 359.3L184.0 359.3L184.1 359.4L184.2 359.4L184.3 359.4L184.4 359.4L184.5 359.5L184.6 359.5L184.7 359.5L184.8 359.5L184.9 359.6L185.0 359.6L185.1 359.6L185.2 359.6L185.3 359.6L185.4 359.7L185.5 359.7L185.6 359.7L185.7 359.7L185.8 359.7L185.9 359.7L186.0 359.7L186.1 359.7L186.2 359.7L186.3 359.7L186.4 359.7L186.5 359.7L186.6 359.7L186.7 359.7L186.8 359.7L186.9 359.7L187.0 359.7L187.1 359.6L187.2 359.6L187.3 359.6L187.4 359.5L187.5 359.5L187.6 359.4L187.7 359.4L187.8 359.3L187.9 359.3L188.0 359.2L188.1 359.1L188.2 359.1L188.3 359.1L188.4 359.0L188.5 359.0L188.6 359.0L188.7 358.9L188.8 358.9L188.9 358.9L189.0 358.9L189.1 358.9L189.2 358.9L189.3 359.0L189.4 359.0L189.5 359.0L189.6 359.0L189.7 359.0L189.8 359.0L189.9 359.0L190.0 359.0L190.1 359.0L190.2 359.0L190.3 359.0L190.4 359.0L190.5 359.0L190.6 359.0L190.7 359.0L190.8 359.0L190.9 359.0L191.0 358.9L191.1 358.9L191.2 358.9L191.3 358.9L191.4 358.9L191.5 358.9L191.6 358.9L191.7 358.9L191.8 358.9L191.9 358.9L192.0 358.9L192.1 358.9L192.2 359.0L192.3 359.0L192.4 359.0L192.5 359.1L192.6 359.1L192.7 359.1L192.8 359.1L192.9 359.2L193.0 359.2L193.1 359.2L193.2 359.2L193.3 359.2L193.4 359.2L193.5 359.2L193.6 359.2L193.7 359.2L193.8 359.2L193.9 359.2L194.0 359.1L194.1 359.1L194.2 359.1L194.3 359.0L194.4 359.0L194.5 359.0L194.6 358.9L194.7 358.9L194.8 358.9L194.9 358.9L195.0 358.9L195.1 358.9L195.2 358.9L195.3 358.9L195.4 358.9L195.5 358.9L195.6 359.0L195.7 359.0L195.8 359.0L195.9 359.1L196.0 359.1L196.1 359.1L196.2 359.2L196.3 359.2L196.4 359.2L196.5 359.2L196.6 359.3L196.7 359.3L196.8 359.3L196.9 359.3L197.0 359.3L197.1 359.3L197.2 359.4L197.3 359.4L197.4 359.4L197.5 359.4L197.6 359.4L197.7 359.4L197.8 359.4L197.9 359.4L198.0 359.4L198.1 359.4L198.2 359.4L198.3 359.4L198.4 359.4L198.5 359.4L198.6 359.4L198.7 359.3L198.8 359.3L198.9 359.3L199.0 359.3L199.1 359.2L199.2 359.2L199.3 359.2L199.4 359.1L199.5 359.1L199.6 359.1L199.7 359.1L199.8 359.1L199.9 359.1L200.0 359.1L200.1 359.1L200.2 359.2L200.3 359.2L200.4 359.2L200.5 359.2L200.6 359.3L200.7 359.3L200.8 359.3L200.9 359.4L201.0 359.4L201.1 359.4L201.2 359.4L201.3 359.4L201.4 359.5L201.5 359.5L201.6 359.5L201.7 359.5L201.8 359.5L201.9 359.5L202.0 359.5L202.1 359.5L202.2 359.5L202.3 359.5L202.4 359.5L202.5 359.5L202.6 359.4L202.7 359.4L202.8 359.4L202.9 359.4L203.0 359.4L203.1 359.4L203.2 359.3L203.3 359.3L203.4 359.3L203.5 359.2L203.6 359.2L203.7 359.1L203.8 359.1L203.9 359.0L204.0 359.0L204.1 359.0L204.2 358.9L204.3 358.9L204.4 358.9L204.5 358.9L204.6 358.9L204.7 358.9L204.8 358.9L204.9 358.9L205.0 358.9L205.1 359.0L205.2 359.0L205.3 359.1L205.4 359.1L205.5 359.1L205.6 359.2L205.7 359.2L205.8 359.3L205.9 359.3L206.0 359.3L206.1 359.3L206.2 359.4L206.3 359.4L206.4 359.4L206.5 359.3L206.6 359.3L206.7 359.3L206.8 359.3L206.9 359.3L207.0 359.2L207.1 359.2L207.2 359.2L207.3 359.2L207.4 359.1L207.5 359.1L207.6 359.1L207.7 359.1L207.8 359.1L207.9 359.1L208.0 359.1L208.1 359.1L208.2 359.1L208.3 359.1L208.4 359.1L208.5 359.1L208.6 359.1L208.7 359.2L208.8 359.2L208.9 359.2L209.0 359.2L209.1 359.2L209.2 359.2L209.3 359.2L209.4 359.2L209.5 359.2L209.6 359.2L209.7 359.2L209.8 359.2L209.9 359.2L210.0 359.2L210.1 359.2L210.2 359.2L210.3 359.1L210.4 359.1L210.5 359.1L210.6 359.1L210.7 359.1L210.8 359.1L210.9 359.1L211.0 359.1L211.1 359.1L211.2 359.1L211.3 359.2L211.4 359.2L211.5 359.2L211.6 359.2L211.7 359.3L211.8 359.3L211.9 359.3L212.0 359.4L212.1 359.4L212.2 359.4L212.3 359.4L212.4 359.5L212.5 359.5L212.6 359.5L212.7 359.5L212.8 359.5L212.9 359.5L213.0 359.5L213.1 359.4L213.2 359.4L213.3 359.4L213.4 359.4L213.5 359.4L213.6 359.4L213.7 359.3L213.8 359.3L213.9 359.3L214.0 359.3L214.1 359.3L214.2 359.2L214.3 359.2L214.4 359.2L214.5 359.2L214.6 359.2L214.7 359.1L214.8 359.1L214.9 359.1L215.0 359.1L215.1 359.1L215.2 359.0L215.3 359.0L215.4 359.0L215.5 359.0L215.6 359.0L215.7 359.0L215.8 359.0L215.9 359.0L216.0 359.0L216.1 359.0L216.2 359.0L216.3 359.1L216.4 359.1L216.5 359.1L216.6 359.1L216.7 359.2L216.8 359.2L216.9 359.2L217.0 359.2L217.1 359.3L217.2 359.3L217.3 359.3L217.4 359.3L217.5 359.4L217.6 359.4L217.7 359.4L217.8 359.4L217.9 359.4L218.0 359.5L218.1 359.5L218.2 359.5L218.3 359.5L218.4 359.5L218.5 359.5L218.6 359.5L218.7 359.6L218.8 359.6L218.9 359.6L219.0 359.6L219.1 359.5L219.2 359.5L219.3 359.5L219.4 359.5L219.5 359.5L219.6 359.4L219.7 359.4L219.8 359.4L219.9 359.3L220.0 359.3L220.1 359.3L220.2 359.2L220.3 359.2L220.4 359.2L220.5 359.1L220.6 359.1L220.7 359.1L220.8 359.1L220.9 359.1L221.0 359.1L221.1 359.1L221.2 359.1L221.3 359.1L221.4 359.1L221.5 359.0L221.6 359.0L221.7 359.0L221.8 359.0L221.9 359.0L222.0 359.0L222.1 359.0L222.2 359.0L222.3 359.1L222.4 359.1L222.5 359.1L222.6 359.1L222.7 359.1L222.8 359.1L222.9 359.1L223.0 359.1L223.1 359.1L223.2 359.1L223.3 359.1L223.4 359.1L223.5 359.1L223.6 359.2L223.7 359.2L223.8 359.2L223.9 359.2L224.0 359.2L224.1 359.3L224.2 359.3L224.3 359.3L224.4 359.4L224.5 359.4L224.6 359.5L224.7 359.5L224.8 359.5L224.9 359.6L225.0 359.6L225.1 359.6L225.2 359.7L225.3 359.7L225.4 359.7L225.5 359.7L225.6 359.7L225.7 359.7L225.8 359.7L225.9 359.7L226.0 359.8L226.1 359.8L226.2 359.8L226.3 359.8L226.4 359.8L226.5 359.8L226.6 359.8L226.7 359.7L226.8 359.7L226.9 359.7L227.0 359.7L227.1 359.7L227.2 359.7L227.3 359.7L227.4 359.7L227.5 359.6L227.6 359.6L227.7 359.6L227.8 359.6L227.9 359.6L228.0 359.5L228.1 359.5L228.2 359.5L228.3 359.5L228.4 359.5L228.5 359.5L228.6 359.5L228.7 359.5L228.8 359.5L228.9 359.5L229.0 359.5L229.1 359.5L229.2 359.5L229.3 359.5L229.4 359.5L229.5 359.6L229.6 359.6L229.7 359.6L229.8 359.6L229.9 359.6L230.0 359.6L230.1 359.7L230.2 359.7L230.3 359.7L230.4 359.7L230.5 359.7L230.6 359.7L230.7 359.7L230.8 359.7L230.9 359.7L231.0 359.7L231.1 359.7L231.2 359.7L231.3 359.7L231.4 359.7L231.5 359.6L231.6 359.6L231.7 359.6L231.8 359.6L231.9 359.6L232.0 359.6L232.1 359.6L232.2 359.5L232.3 359.5L232.4 359.5L232.5 359.4L232.6 359.4L232.7 359.4L232.8 359.4L232.9 359.3L233.0 359.3L233.1 359.3L233.2 359.2L233.3 359.2L233.4 359.2L233.5 359.2L233.6 359.1L233.7 359.1L233.8 359.1L233.9 359.1L234.0 359.0L234.1 359.0L234.2 359.0L234.3 359.0L234.4 359.0L234.5 359.0L234.6 358.9L234.7 358.9L234.8 358.9L234.9 358.9L235.0 358.9L235.1 358.9L235.2 359.0L235.3 359.0L235.4 359.0L235.5 359.1L235.6 359.1L235.7 359.1L235.8 359.2L235.9 359.2L236.0 359.3L236.1 359.3L236.2 359.3L236.3 359.4L236.4 359.4L236.5 359.4L236.6 359.4L236.7 359.4L236.8 359.5L236.9 359.5L237.0 359.5L237.1 359.5L237.2 359.5L237.3 359.4L237.4 359.4L237.5 359.4L237.6 359.4L237.7 359.4L237.8 359.4L237.9 359.4L238.0 359.4L238.1 359.4L238.2 359.4L238.3 359.3L238.4 359.3L238.5 359.3L238.6 359.3L238.7 359.3L238.8 359.3L238.9 359.3L239.0 359.3L239.1 359.3L239.2 359.2L239.3 359.2L239.4 359.2L239.5 359.2L239.6 359.2L239.7 359.2L239.8 359.2L239.9 359.2L240.0 359.2L240.1 359.1L240.2 359.1L240.3 359.1L240.4 359.1L240.5 359.1L240.6 359.1L240.7 359.1L240.8 359.1L240.9 359.1L241.0 359.1L241.1 359.1L241.2 359.1L241.3 359.1L241.4 359.1L241.5 359.0L241.7 359.0L241.9 359.0L242.0 359.0L242.2 359.0L242.4 359.0L242.5 359.0L242.7 359.0L242.9 359.0L243.0 359.0L243.2 359.0L243.4 359.0L243.5 359.0L243.7 359.0L243.9 358.9L244.0 358.9L244.1 358.9L244.3 358.8L244.4 358.8L244.5 358.7L244.7 358.6L244.8 358.6L244.9 358.5L245.0 358.4L245.2 358.4L245.3 358.3L245.4 358.2L245.5 358.1 M246.9 356.7L247.0 356.6L247.1 356.3L247.3 356.1L247.5 355.8L247.6 355.6L247.8 355.3L247.9 355.1 M250.0 349.4L250.1 349.0L250.2 348.3L250.4 347.7L250.5 347.1L250.7 346.4L250.8 345.7L250.8 345.7 M252.1 339.2L252.2 338.9L252.3 338.0L252.5 337.0L252.7 336.0L252.8 335.0L253.0 334.0L253.1 333.0L253.2 332.0L253.4 331.0L253.4 330.4 M254.6 313.2L254.6 313.0L254.8 311.3L255.0 309.6L255.2 307.8L255.4 306.0L255.6 304.1L255.8 302.2L256.0 300.3L256.3 298.4L256.5 296.4L256.7 294.5L256.9 292.7L257.1 290.9L257.2 289.1L257.4 287.5L257.4 287.2 M258.0 268.7L258.0 268.1L258.1 267.2L258.1 266.2L258.2 265.3L258.2 264.4L258.3 263.5L258.4 262.5L258.4 261.6L258.5 260.7L258.6 259.7L258.6 258.8L258.7 257.9L258.8 257.0L258.8 256.4 M259.9 238.7L259.9 238.1L260.0 237.2L260.1 236.2L260.2 235.3L260.3 234.3L260.4 233.4L260.5 232.5L260.6 231.5L260.6 230.6L260.7 229.6L260.8 228.7L260.9 227.7L261.0 226.8L261.0 226.2 M261.8 208.5L261.8 208.0L261.9 207.1L261.9 206.3L262.0 205.4L262.0 204.5L262.1 203.7L262.1 202.8L262.2 201.9L262.3 201.0L262.3 200.2L262.4 199.3L262.4 198.4L262.5 197.5L262.5 197.0 M263.4 178.2L263.4 177.7L263.5 176.7L263.5 175.8L263.6 174.9L263.7 174.0L263.7 173.1L263.8 172.2L263.9 171.3L264.0 170.4L264.0 169.5L264.1 168.6L264.1 167.7L264.2 166.8L264.2 166.3 M264.8 148.7L264.8 148.2L264.9 147.3L265.0 146.4L265.1 145.5L265.1 144.6L265.2 143.7L265.3 142.8L265.4 141.9L265.5 141.0L265.6 140.1L265.7 139.2L265.8 138.3L265.8 137.4L265.9 136.9 M267.1 118.3L267.1 117.8L267.2 116.9L267.3 116.1L267.4 115.2L267.5 114.3L267.6 113.5L267.6 112.6L267.7 111.7L267.8 110.9L267.9 110.0L268.0 109.1L268.1 108.3L268.2 107.4L268.2 106.9 M269.4 88.4L269.5 87.9L269.6 87.0L269.6 86.1L269.7 85.3L269.8 84.4L269.9 83.5L270.0 82.7L270.1 81.8L270.2 80.9L270.3 80.1L270.4 79.2L270.5 78.3L270.6 77.5L270.7 77.0 M272.2 59.3L272.3 59.2L272.3 58.5L272.4 57.8L272.5 57.1L272.6 56.4L272.7 55.7L272.7 55.1L272.8 54.4L272.9 53.8L273.0 53.1L273.1 52.5L273.2 51.8L273.2 51.1L273.2 51.1 M274.5 39.7L274.5 39.6L274.6 39.0L274.6 38.6L274.7 38.2L274.7 37.8L274.8 37.4L274.8 37.0L274.8 36.6L274.9 36.2L274.9 35.8L274.9 35.5L275.0 35.1L275.0 34.8L275.1 34.5L275.1 34.2L275.2 33.9L275.3 33.7L275.4 33.5L275.5 33.4L275.5 33.3L275.5 33.3 M275.4 33.5L275.4 33.5L275.5 33.4L275.5 33.3L275.6 33.2L275.6 33.1L275.7 33.1L275.7 33.0L275.8 32.9L275.9 32.9L275.9 32.8L276.0 32.8L276.1 32.7L276.2 32.7L276.2 32.6L276.3 32.6L276.4 32.5L276.5 32.5L276.6 32.5L276.8 32.4L276.9 32.4L277.0 32.4L277.2 32.3L277.3 32.3L277.5 32.3L277.7 32.3L277.8 32.3L278.0 32.3L278.2 32.3L278.3 32.3L278.5 32.3L278.7 32.3L278.8 32.3L279.0 32.3L279.2 32.3L279.4 32.3L279.6 32.3L279.8 32.3L280.0 32.3L280.2 32.3L280.4 32.3L280.6 32.3L280.8 32.3L281.0 32.3L281.2 32.3L281.4 32.3L281.5 32.3L281.7 32.4L281.9 32.4L282.0 32.5L282.1 32.6L282.2 32.6L282.3 32.7L282.4 32.8L282.5 32.8L282.5 32.9L282.6 33.0L282.7 33.1L282.7 33.2L282.8 33.3L282.9 33.4L282.9 33.5L283.0 33.6L283.0 33.6 M283.5 34.6L283.5 34.7L283.7 35.1L283.9 35.6L284.1 36.1L284.3 36.6L284.5 37.2L284.7 37.8L284.8 38.3L285.0 38.9L285.2 39.5L285.4 40.2L285.4 40.3 M286.8 45.4L286.9 45.6L287.0 46.2L287.2 46.9L287.3 47.5L287.5 48.1L287.6 48.8L287.7 49.4L287.9 50.0L288.1 50.6L288.2 51.2 M289.7 55.5L289.8 55.9L290.0 56.3L290.2 56.8L290.4 57.3L290.6 57.7L290.8 58.1L291.0 58.5L291.2 58.8 M291.8 59.6L291.8 59.6L292.0 59.9L292.3 60.1L292.6 60.4L292.8 60.7L293.1 60.9L293.4 61.1L293.7 61.4L294.0 61.6L294.3 61.8L294.7 61.9L295.0 62.1L295.3 62.2L295.6 62.4L295.9 62.5L296.2 62.5L296.5 62.6L296.8 62.6L297.0 62.6L297.2 62.6L297.5 62.5L297.7 62.5L298.0 62.4L298.2 62.3L298.5 62.2L298.7 62.1L299.0 62.0L299.2 61.8L299.5 61.8L299.7 61.7L300.0 61.6L300.2 61.5L300.5 61.5L300.8 61.5L301.1 61.5L301.4 61.4L301.8 61.4L302.1 61.4L302.4 61.4L302.8 61.4L303.1 61.4L303.4 61.4L303.8 61.5L304.1 61.5L304.4 61.6L304.7 61.7L304.9 61.7L305.2 61.9L305.4 62.0 M306.2 63.0L306.3 63.2L306.4 63.4L306.6 63.7L306.7 63.9L306.8 64.2L306.8 64.4L306.9 64.6 M308.8 72.2L308.9 72.5L309.1 73.1L309.3 73.6L309.4 74.2L309.6 74.8L309.8 75.4L309.9 76.0L310.1 76.7L310.3 77.3L310.5 77.9L310.6 78.5 M311.6 83.0L311.7 83.6L311.9 84.3L312.0 85.1L312.1 85.9L312.3 86.8L312.4 87.6L312.5 88.4L312.7 89.2L312.8 90.0L312.9 90.8L313.1 91.6L313.1 91.9 M315.2 106.4L315.2 106.5L315.3 107.2L315.4 107.8L315.5 108.5L315.6 109.2L315.7 109.8L315.8 110.5L315.9 111.2L316.0 111.8L316.1 112.5L316.2 113.2L316.3 113.9L316.4 114.5L316.4 114.6 M318.7 128.7L318.7 128.8L318.8 129.4L318.9 130.1L319.0 130.8L319.1 131.5L319.3 132.1L319.4 132.8L319.5 133.5L319.6 134.1L319.7 134.8L319.8 135.5L319.9 136.1L320.0 136.8L320.0 136.9 M322.2 151.4L322.2 151.5L322.4 152.1L322.5 152.8L322.6 153.5L322.7 154.1L322.8 154.8L323.0 155.4L323.1 156.1L323.2 156.7L323.3 157.4L323.5 158.1L323.6 158.8L323.7 159.5L323.8 159.6 M327.1 177.5L327.1 177.6L327.2 178.3L327.4 178.9L327.5 179.6L327.7 180.3L327.8 180.9L328.0 181.6L328.1 182.2L328.2 182.8L328.4 183.4L328.5 184.0L328.7 184.6L328.8 185.1 M331.2 194.7L331.3 194.9L331.4 195.3L331.5 195.7L331.6 196.0L331.7 196.4L331.9 196.8L332.0 197.2L332.1 197.5L332.2 197.9L332.3 198.3 M334.1 203.9L334.1 204.2L334.3 204.8L334.5 205.4L334.8 206.0L335.0 206.5L335.2 207.1L335.3 207.3 M335.9 208.5L335.9 208.5L336.1 208.8L336.3 209.1L336.4 209.4L336.6 209.6L336.8 209.9L337.0 210.1L337.2 210.3L337.4 210.6L337.6 210.8L337.8 211.0L338.0 211.2L338.2 211.4L338.4 211.6L338.7 211.9L338.9 212.1L339.1 212.3L339.4 212.5L339.6 212.8L339.9 213.0L340.2 213.3L340.4 213.5L340.7 213.7L341.0 213.9L341.3 214.2L341.6 214.4L341.9 214.6L342.2 214.9L342.5 215.1L342.7 215.3L343.0 215.6L343.3 215.8L343.5 216.1L343.7 216.4L344.0 216.6L344.2 216.9L344.4 217.2L344.6 217.4L344.8 217.7L345.0 218.0L345.2 218.3L345.4 218.5L345.6 218.8L345.8 219.1L346.0 219.4L346.2 219.7L346.4 219.9L346.5 220.2L346.7 220.5L346.8 220.7L347.0 221.0L347.1 221.2L347.2 221.5L347.4 221.7L347.5 221.9L347.6 222.2L347.7 222.4L347.8 222.7L347.9 222.9L348.0 223.2L348.2 223.4L348.3 223.6L348.4 223.9L348.5 224.1L348.6 224.4L348.7 224.7L348.8 224.8 M350.4 228.7L350.5 229.0L350.6 229.3L350.8 229.6L350.9 230.0L351.0 230.3L351.1 230.6L351.2 230.9L351.4 231.2L351.5 231.6L351.6 231.9L351.7 232.2L351.9 232.6L352.0 232.9L352.1 233.3 M354.4 242.0L354.6 242.9L354.8 243.8L355.0 244.7L355.3 245.7L355.5 246.6L355.6 247.1 M357.9 257.3L358.0 257.6L358.2 258.6L358.4 259.5L358.6 260.4L358.8 261.3L359.0 261.7 M361.4 269.9L361.5 270.3L361.8 271.0L362.0 271.7L362.2 272.4L362.5 273.1L362.5 273.3 M364.7 280.1L364.8 280.4L365.0 281.0L365.2 281.6L365.4 282.2L365.6 282.8L365.6 282.8 M367.6 287.7L367.7 287.8L368.0 288.6L368.3 289.4L368.5 289.9 M370.3 293.9L370.5 294.2L370.8 295.0L371.2 295.8L371.3 296.1 M373.2 300.1L373.4 300.5L373.7 301.1L374.0 301.8L374.3 302.3 M376.3 306.3L376.5 306.7L376.8 307.2L377.0 307.7L377.3 308.2L377.5 308.6 M379.7 312.4L379.8 312.5L380.1 313.0L380.4 313.4L380.7 313.9L380.8 314.0 M380.0 312.9L380.1 313.0L380.4 313.4L380.7 313.9L381.0 314.4L381.4 315.0L381.8 315.5L382.2 316.1L382.6 316.6L383.0 317.2L383.5 317.8L383.9 318.3L384.4 318.9L384.8 319.4L385.3 320.0L385.7 320.6L386.2 321.1L386.6 321.7L387.1 322.2L387.6 322.8L388.0 323.3L388.4 323.8L388.9 324.3L389.3 324.8L389.8 325.3L390.2 325.8L390.7 326.3L391.1 326.8L391.6 327.3L392.0 327.8L392.4 328.3L392.9 328.8L393.3 329.3L393.8 329.7L394.2 330.2L394.6 330.6L395.0 331.1L395.3 331.5L395.7 331.9L396.0 332.2L396.3 332.6L396.6 333.0L396.9 333.4L397.3 333.7L397.6 334.1L397.9 334.5L398.2 334.8L398.5 335.2L398.8 335.5L399.1 335.8L399.4 336.2L399.8 336.5L400.1 336.8L400.4 337.1L400.7 337.4L401.0 337.6L401.4 337.9L401.7 338.2L402.0 338.5L402.3 338.7L402.6 339.0L403.0 339.2L403.3 339.5L403.6 339.7L403.9 339.9L404.3 340.1L404.6 340.3L404.9 340.5L405.2 340.6L405.4 340.7L405.7 340.8L405.9 340.9L406.2 341.0L406.4 341.0L406.6 341.1L406.9 341.2L407.1 341.2L407.4 341.3L407.6 341.3L407.8 341.3L408.1 341.3L408.3 341.3L408.5 341.3L408.8 341.3L409.0 341.3L409.2 341.3L409.5 341.2L409.7 341.1L410.0 341.1L410.2 341.0L410.5 340.9L410.7 340.8L411.0 340.6L411.2 340.5L411.5 340.4L411.7 340.2L411.9 340.1L412.2 339.9L412.4 339.7L412.6 339.6L412.8 339.4L413.0 339.2L413.2 339.0L413.4 338.8L413.6 338.6L413.7 338.4L413.9 338.1L414.1 337.9L414.2 337.6L414.4 337.4L414.6 337.1L414.7 336.9L414.8 336.6L415.0 336.3L415.1 336.1L415.3 335.8L415.4 335.5L415.5 335.2L415.6 335.1 M416.5 332.4L416.6 332.0L416.7 331.7L416.8 331.3L416.9 331.0 M418.4 326.7L418.5 326.3L418.7 325.9L418.8 325.4L419.0 325.0L419.1 324.5L419.3 324.1L419.3 324.0 M421.0 319.7L421.1 319.4L421.3 319.0L421.4 318.6L421.6 318.2L421.8 317.8L421.9 317.5L422.0 317.4 M423.0 315.5L423.1 315.4L423.2 315.2L423.3 315.1L423.4 314.9L423.5 314.8L423.6 314.7L423.7 314.6L423.8 314.5L423.9 314.4L424.0 314.3L424.1 314.2L424.2 314.2L424.3 314.1L424.4 314.0L424.4 314.0L424.5 313.9L424.6 313.9L424.7 313.8L424.8 313.8L424.9 313.8L425.0 313.7L425.1 313.7L425.2 313.7L425.3 313.7L425.4 313.7L425.5 313.7L425.6 313.7L425.7 313.7L425.9 313.8L426.0 313.8L426.1 313.9L426.2 314.0L426.4 314.0L426.5 314.1L426.6 314.2L426.8 314.3L426.9 314.4L427.0 314.5L427.1 314.6L427.3 314.8L427.4 314.9L427.5 315.0L427.7 315.2L427.8 315.4L428.0 315.6L428.2 315.8L428.4 316.0L428.5 316.3L428.7 316.5L428.9 316.8L429.0 317.0L429.2 317.3L429.3 317.6L429.5 317.9L429.6 318.1L429.8 318.4L429.9 318.7L430.0 319.0 M431.6 326.0L431.7 326.4L431.8 326.8L432.0 327.2L432.1 327.6L432.2 328.0L432.3 328.5L432.4 328.9L432.6 329.3L432.7 329.8L432.8 330.2L432.9 330.4 M435.0 339.4L435.1 339.7L435.3 340.6L435.5 341.4L435.7 342.2L435.9 343.0L436.0 343.3 M438.3 349.5L438.4 349.9L438.7 350.5L438.9 351.0L439.2 351.5L439.4 352.0L439.6 352.3 M440.0 353.1L440.2 353.4L440.4 353.7L440.6 354.0L440.8 354.3L441.0 354.6L441.2 354.8L441.4 355.1L441.6 355.3L441.8 355.6L442.0 355.8L442.2 356.0L442.4 356.3L442.6 356.5L442.8 356.7L443.0 356.8L443.2 357.0L443.4 357.2L443.6 357.3L443.7 357.4L443.9 357.6L444.0 357.7L444.2 357.8L444.4 357.8L444.5 357.9L444.7 358.0L444.8 358.1L445.0 358.2L445.2 358.3L445.3 358.3L445.5 358.4L445.7 358.5L445.8 358.5L446.0 358.6L446.2 358.7L446.4 358.7L446.5 358.8L446.7 358.9L446.9 358.9L447.0 359.0"/>
<path id="c5" d="M446.5 358.8L446.5 358.8L446.7 358.9L446.9 358.9L447.1 359.0L447.2 359.0L447.4 359.1L447.6 359.1L447.8 359.2L448.0 359.2L448.2 359.2L448.4 359.3L448.6 359.3L448.8 359.4L449.0 359.4L449.3 359.4L449.6 359.5L450.0 359.5L450.3 359.5L450.6 359.6L451.0 359.6L451.3 359.6L451.7 359.6L452.1 359.6L452.5 359.6L452.9 359.7L453.3 359.7L453.7 359.7L454.1 359.7L454.6 359.7L455.0 359.7L455.7 359.7L456.5 359.7L457.3 359.7L458.1 359.7L458.9 359.7L459.8 359.7L460.7 359.7L461.6 359.7L462.6 359.7L463.5 359.7L464.4 359.7L465.4 359.7L466.3 359.7L467.2 359.7L468.1 359.7L469.0 359.7"/></defs>
<g fill="none" stroke="#000000" stroke-linejoin="round" stroke-linecap="butt"><use href="#c1" stroke-width="3.2"/><use href="#c1" stroke-width="1.02" transform="translate(1.09 1.09)"/><use href="#c1" stroke-width="1.02" transform="translate(-1.09 1.09)"/><use href="#c1" stroke-width="1.02" transform="translate(1.09 -1.09)"/><use href="#c1" stroke-width="1.02" transform="translate(-1.09 -1.09)"/></g>
<g fill="none" stroke="#ff0000" stroke-linejoin="round" stroke-linecap="round"><use href="#c2" stroke-width="3.2"/><use href="#c2" stroke-width="1.02" transform="translate(1.09 1.09)"/><use href="#c2" stroke-width="1.02" transform="translate(-1.09 1.09)"/><use href="#c2" stroke-width="1.02" transform="translate(1.09 -1.09)"/><use href="#c2" stroke-width="1.02" transform="translate(-1.09 -1.09)"/></g>
<g fill="none" stroke="#00ff00" stroke-linejoin="round" stroke-linecap="round"><use href="#c3" stroke-width="3.2"/><use href="#c3" stroke-width="1.02" transform="translate(1.09 1.09)"/><use href="#c3" stroke-width="1.02" transform="translate(-1.09 1.09)"/><use href="#c3" stroke-width="1.02" transform="translate(1.09 -1.09)"/><use href="#c3" stroke-width="1.02" transform="translate(-1.09 -1.09)"/></g>
<g fill="none" stroke="#0000ff" stroke-linejoin="round" stroke-linecap="round"><use href="#c4" stroke-width="3.2"/><use href="#c4" stroke-width="1.02" transform="translate(1.09 1.09)"/><use href="#c4" stroke-width="1.02" transform="translate(-1.09 1.09)"/><use href="#c4" stroke-width="1.02" transform="translate(1.09 -1.09)"/><use href="#c4" stroke-width="1.02" transform="translate(-1.09 -1.09)"/></g>
<g fill="none" stroke="#0000ff" stroke-linejoin="round" stroke-linecap="round"><use href="#c5" stroke-width="2.6"/><use href="#c5" stroke-width="0.84" transform="translate(0.88 0.88)"/><use href="#c5" stroke-width="0.84" transform="translate(-0.88 0.88)"/><use href="#c5" stroke-width="0.84" transform="translate(0.88 -0.88)"/><use href="#c5" stroke-width="0.84" transform="translate(-0.88 -0.88)"/></g>
<circle cx="300.5" cy="60.7" r="3.5" fill="#0000ff"/>
<g stroke="#000" stroke-width="2.5" fill="none" stroke-linecap="butt">
<path d="M77.1 29.8 V361.7 H483.8 V29.8"/>
<path d="M77.1 361.7h-6.8 M77.1 331.6h-4.0 M77.1 301.6h-6.8 M77.1 271.5h-4.0 M77.1 241.4h-6.8 M77.1 211.4h-4.0 M77.1 181.3h-6.8 M77.1 151.3h-4.0 M77.1 121.2h-6.8 M77.1 91.1h-4.0 M77.1 61.1h-6.8 M77.1 31.0h-4.0 M483.8 361.7h-6.8 M483.8 328.6h-4.0 M483.8 295.6h-6.8 M483.8 262.5h-4.0 M483.8 229.4h-6.8 M483.8 196.3h-4.0 M483.8 163.3h-6.8 M483.8 130.2h-4.0 M483.8 97.1h-6.8 M483.8 64.1h-4.0 M483.8 31.0h-6.8 M77.1 361.7v6.8 M105.1 361.7v4.0 M133.2 361.7v6.8 M161.2 361.7v4.0 M189.2 361.7v6.8 M217.3 361.7v4.0 M245.3 361.7v6.8 M273.3 361.7v4.0 M301.4 361.7v6.8 M329.4 361.7v4.0 M357.5 361.7v6.8 M385.5 361.7v4.0 M413.5 361.7v6.8 M441.6 361.7v4.0 M469.6 361.7v6.8"/>
</g>
<path d="M93 59.8 H140.2" stroke="#000" stroke-width="1.4" fill="none"/><path d="M83.8 59.8 L93.9 57.1 L93.9 62.5 Z" fill="#000"/>
<g font-family="'Liberation Sans', Arial, sans-serif" font-size="13.6" fill="#000">
<text x="77.1" y="383.4" text-anchor="middle">200</text>
<text x="133.2" y="383.4" text-anchor="middle">300</text>
<text x="189.2" y="383.4" text-anchor="middle">400</text>
<text x="245.3" y="383.4" text-anchor="middle">500</text>
<text x="301.4" y="383.4" text-anchor="middle">600</text>
<text x="357.5" y="383.4" text-anchor="middle">700</text>
<text x="413.5" y="383.4" text-anchor="middle">800</text>
<text x="469.6" y="383.4" text-anchor="middle">900</text>
<text x="66.2" y="366.1" text-anchor="end">0.0</text>
<text x="491.2" y="365.6" text-anchor="start">0.0</text>
<text x="66.2" y="306.0" text-anchor="end">0.2</text>
<text x="491.2" y="299.5" text-anchor="start">0.2</text>
<text x="66.2" y="245.8" text-anchor="end">0.4</text>
<text x="491.2" y="233.3" text-anchor="start">0.4</text>
<text x="66.2" y="185.7" text-anchor="end">0.6</text>
<text x="491.2" y="167.2" text-anchor="start">0.6</text>
<text x="66.2" y="125.6" text-anchor="end">0.8</text>
<text x="491.2" y="101.0" text-anchor="start">0.8</text>
<text x="66.2" y="65.5" text-anchor="end">1.0</text>
<text x="491.2" y="34.9" text-anchor="start">1.0</text>
</g>
<g font-family="'Liberation Sans', Arial, sans-serif" font-size="21.75" fill="#000">
<text x="263.3" y="410" text-anchor="middle">Wavelength nm</text>
<text transform="translate(26.5 180.8) rotate(-90)" text-anchor="middle">Absorbane Units</text>
<text transform="translate(533.6 200.2) rotate(-90)" text-anchor="middle" xml:space="preserve" style="white-space:pre">Emission  Intensity(arb. Units)</text>
</g>
</svg>
</body></html>
